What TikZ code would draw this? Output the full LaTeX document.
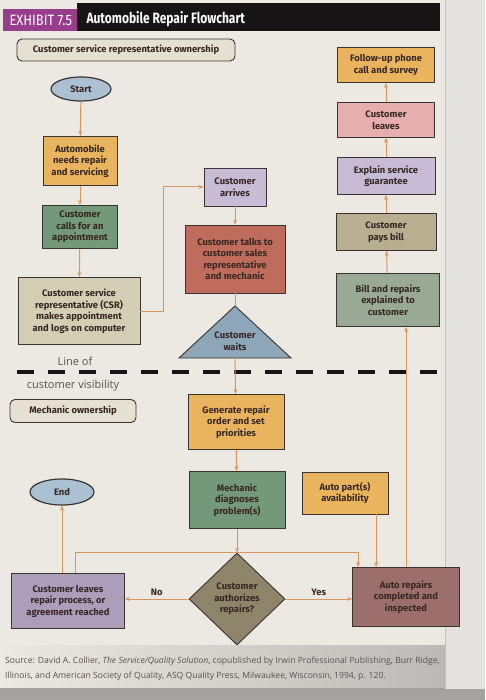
\documentclass[tikz,border=0pt]{standalone}
\usepackage{fontspec}
\setmainfont{Fira Sans}
\newfontfamily\notefont{Open Sans}
\newfontfamily\headfont[FakeStretch=0.8]{Fira Sans}
\newfontfamily\exhibitfont[FakeStretch=0.86]{Fira Sans}
\usetikzlibrary{shapes.geometric,arrows.meta,positioning,calc}
\definecolor{pagebg}{RGB}{236,233,226}
\definecolor{sidebg}{RGB}{228,226,222}
\definecolor{headblack}{RGB}{22,20,20}
\definecolor{exhibit}{RGB}{150,62,140}
\definecolor{boxline}{RGB}{58,52,48}
\definecolor{boxtext}{RGB}{55,40,35}
\definecolor{flowline}{RGB}{214,150,100}
\definecolor{cOrange}{RGB}{234,180,95}
\definecolor{cGreen}{RGB}{115,152,122}
\definecolor{cBeige}{RGB}{212,206,180}
\definecolor{cLav}{RGB}{198,188,214}
\definecolor{cLavDark}{RGB}{172,157,187}
\definecolor{cRed}{RGB}{192,108,92}
\definecolor{cPink}{RGB}{230,174,172}
\definecolor{cTan}{RGB}{184,174,144}
\definecolor{cSage}{RGB}{152,170,150}
\definecolor{cBrown}{RGB}{156,110,108}
\definecolor{cWait}{RGB}{142,166,186}
\definecolor{cDecide}{RGB}{142,132,106}
\definecolor{cTerm}{RGB}{172,192,212}
\definecolor{cOwn}{RGB}{228,224,210}
\definecolor{notetext}{RGB}{88,82,82}
\begin{document}
\begin{tikzpicture}[x=1pt,y=-1pt,>={Stealth[length=5pt,width=4pt]},
  box/.style={rectangle, draw=boxline, line width=0.9pt, align=center, inner sep=2pt, text=boxtext, font=\fontsize{9.4}{11.5}\selectfont\bfseries},
  orange_box/.style={box, fill=cOrange},
  green_box/.style={box, fill=cGreen},
  beige_box/.style={box, fill=cBeige},
  lav_box/.style={box, fill=cLav},
  lav_dark_box/.style={box, fill=cLavDark},
  red_box/.style={box, fill=cRed},
  pink_box/.style={box, fill=cPink},
  tan_box/.style={box, fill=cTan},
  sage_box/.style={box, fill=cSage},
  brown_box/.style={box, fill=cBrown},
  own_box/.style={box, rounded corners=5pt, fill=cOwn},
  term/.style={ellipse, draw=boxline, line width=1.2pt, fill=cTerm, inner sep=0pt, text=boxtext, font=\fontsize{9.4}{11.5}\selectfont\bfseries},
  decide/.style={diamond, draw=boxline, line width=0.9pt, fill=cDecide, aspect=1.04, inner sep=0pt, minimum width=96pt, minimum height=92pt, align=center, text=boxtext, font=\fontsize{9.4}{11.5}\selectfont\bfseries},
  wait_tri/.style={draw=boxline, line width=0.9pt, fill=cWait},
  flow/.style={draw=flowline, line width=1pt},
  lbl/.style={text=boxtext, font=\fontsize{9.4}{11.5}\selectfont\bfseries, inner sep=3pt},
  vis_line/.style={draw=headblack, line width=4pt, dash pattern=on 17pt off 14pt},
  vis_text/.style={text=notetext, font=\notefont\fontsize{11}{12}\selectfont},
  note/.style={text=notetext, anchor=west, inner sep=0pt, font=\notefont\fontsize{8.6}{10}\selectfont}]
\useasboundingbox (0,0) rectangle (485,700);
% page
\fill[pagebg] (0,0) rectangle (445,700);
\fill[sidebg] (445,0) rectangle (485,700);
\draw[sidebg!85!black, line width=0.5pt] (445,0) -- (445,688);
\shade[left color=pagebg, right color=sidebg!82!black] (0,645) rectangle (445,688);
\draw[sidebg!70!black, line width=0.6pt] (0,688) -- (445,688);
\fill[sidebg!72!black] (0,689) rectangle (485,700);
% header
\fill[headblack] (77,3) rectangle (440,31);
\fill[exhibit] (3,9) rectangle (77,31);
\node[anchor=west, text=white, font=\exhibitfont\fontsize{15}{15}\selectfont] (exhibit_no) at (6,20) {EXHIBIT 7.5};
\node[anchor=west, text=white, font=\headfont\bfseries\fontsize{15}{15}\selectfont] (title) at (83,19) {Automobile Repair Flowchart};
% customer service side
\node[own_box, minimum width=218pt, minimum height=22pt] (csr_own) at (126,50) {Customer service representative ownership};
\node[term, minimum width=60pt, minimum height=24pt] (start) at (81,89) {Start};
\node[orange_box, minimum width=74pt, minimum height=49pt] (auto) at (80,161) {Automobile\\needs repair\\and servicing};
\node[green_box, minimum width=75pt, minimum height=43pt] (calls) at (80,227) {Customer\\calls for an\\appointment};
\node[beige_box, minimum width=122pt, minimum height=67pt] (csr) at (79,311) {Customer service\\representative (CSR)\\makes appointment\\and logs on computer};
\node[lav_box, minimum width=62pt, minimum height=38pt] (arrives) at (235,187) {Customer\\arrives};
\node[red_box, minimum width=100pt, minimum height=68pt] (talks) at (235,259) {Customer talks to\\customer sales\\representative\\and mechanic};
\coordinate (wait_top) at (235,306);
\coordinate (wait_bot) at (235,358);
\draw[wait_tri] (wait_top) -- (291,358) -- (179,358) -- cycle;
\node[lbl, align=center] (wait) at (235,341) {Customer\\waits};
% right column
\node[orange_box, minimum width=97pt, minimum height=35pt] (followup) at (386,65) {Follow-up phone\\call and survey};
\node[pink_box, minimum width=97pt, minimum height=35pt] (cust_leaves) at (386,120) {Customer\\leaves};
\node[lav_box, minimum width=98pt, minimum height=37pt] (explain) at (386,176) {Explain service\\guarantee};
\node[tan_box, minimum width=100pt, minimum height=37pt] (pays) at (386,232) {Customer\\pays bill};
\node[sage_box, minimum width=103pt, minimum height=53pt] (bill) at (388,300) {Bill and repairs\\explained to\\customer};
% line of visibility
\draw[vis_line] (17,372) -- (440,372);
\node[vis_text] (line_of) at (75,361) {Line of};
\node[vis_text] (cust_vis) at (73,386) {customer visibility};
% mechanic side
\node[own_box, minimum width=126pt, minimum height=23pt] (mech_own) at (73,411) {Mechanic ownership};
\node[orange_box, minimum width=96pt, minimum height=55pt] (gen) at (236,422) {Generate repair\\order and set\\priorities};
\node[term, minimum width=64pt, minimum height=26pt] (finish) at (62,492) {End};
\node[green_box, minimum width=96pt, minimum height=57pt] (diag) at (237,500) {Mechanic\\diagnoses\\problem(s)};
\node[orange_box, minimum width=86pt, minimum height=42pt] (parts) at (345,493) {Auto part(s)\\availability};
\node[decide] (auth) at (237,599) {Customer\\authorizes\\repairs?};
\node[lav_dark_box, minimum width=113pt, minimum height=55pt] (leave_proc) at (68,601) {Customer leaves\\repair process, or\\agreement reached};
\node[brown_box, minimum width=107pt, minimum height=59pt] (repairs) at (406,597) {Auto repairs\\completed and\\inspected};
% source
\node[note] (source1) at (5,661) {Source: David A. Collier, \textit{The Service/Quality Solution}, copublished by Irwin Professional Publishing, Burr Ridge,};
\node[note] (source2) at (5,676) {Illinois, and American Society of Quality, ASQ Quality Press, Milwaukee, Wisconsin, 1994, p. 120.};
% connectors
\draw[flow,->] (start) -- (auto);
\draw[flow,->] (auto) -- (calls);
\draw[flow,->] (calls) -- (csr);
\draw[flow,->] (csr.east) -- ++(23,0) |- (arrives.west);
\draw[flow,->] (arrives) -- (talks);
\draw[flow] (talks) -- (wait_top);
\draw[flow,->] (wait_bot) -- (gen);
\draw[flow,->] (gen) -- (diag);
\draw[flow,->] (diag) -- (auth);
\draw[flow,->] (auth.west) -- node[lbl, above] {No} (auth.west -| leave_proc.east);
\draw[flow,->] (auth.east) -- node[lbl, above] {Yes} (auth.east -| repairs.west);
\draw[flow,->] (finish |- leave_proc.north) -- (finish);
\draw[flow,->] ([xshift=7pt]leave_proc.north) |- (auth.north) -| ([xshift=-48pt]repairs.north);
\draw[flow,->] ([xshift=31pt]parts.south) -- ([xshift=31pt]parts.south |- repairs.north);
\draw[flow,->] (repairs.north) -- (repairs.north |- bill.south);
\draw[flow,->] (bill) -- (pays);
\draw[flow,->] (pays) -- (explain);
\draw[flow,->] (explain) -- (cust_leaves);
\draw[flow,->] (cust_leaves) -- (followup);
\end{tikzpicture}
\end{document}
